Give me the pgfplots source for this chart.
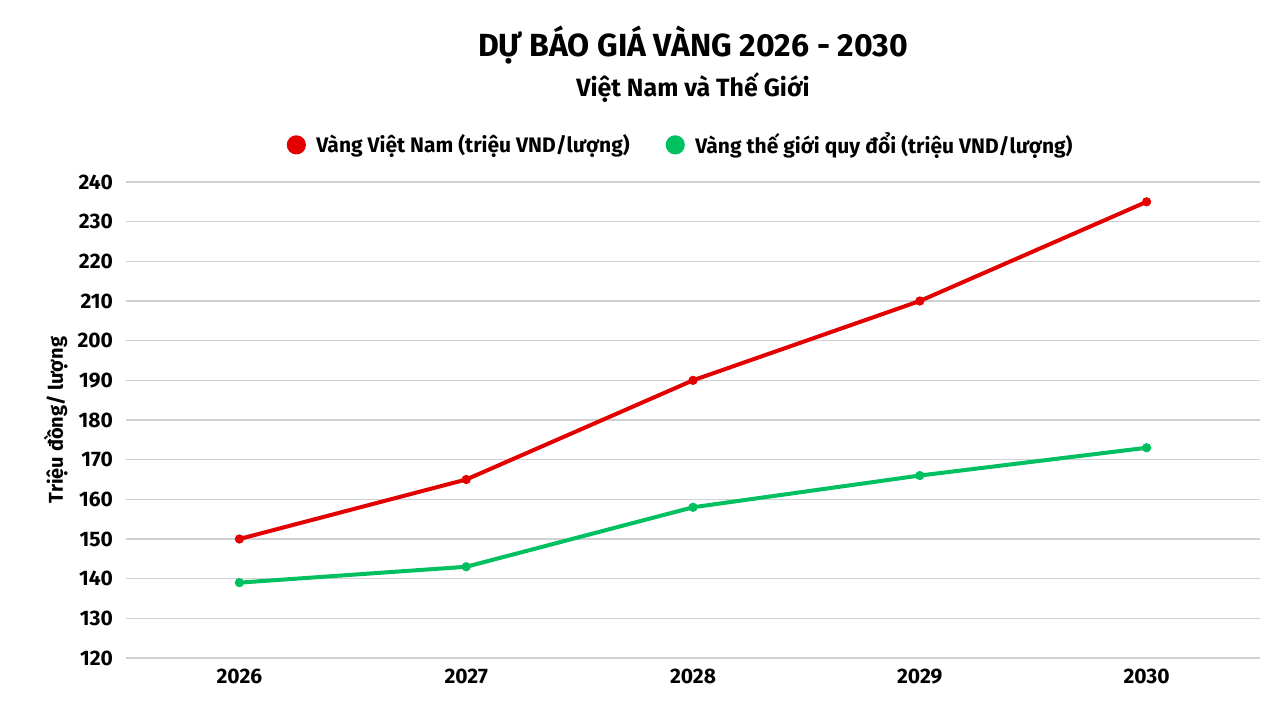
\documentclass[border=0pt]{standalone}
\usepackage{pgfplots}
\pgfplotsset{compat=1.18}
\usepackage{fontspec}
\setmainfont{Fira Sans}
\definecolor{vnred}{HTML}{E30000}
\definecolor{wgreen}{HTML}{00C060}
\definecolor{gridc}{HTML}{D0D0D0}
\begin{document}
\begin{tikzpicture}[x=1pt,y=1pt]
\path[fill=white] (0,0) rectangle (640,360);
\node[font=\fontsize{16}{19}\selectfont\bfseries] at (346.5,337.5) {DỰ BÁO GIÁ VÀNG 2026 - 2030};
\node[font=\fontsize{12.5}{15}\selectfont\bfseries] at (346.5,316) {Việt Nam và Thế Giới};
\begin{axis}[
  at={(63pt,31pt)}, anchor=south west,
  scale only axis, width=567pt, height=238pt,
  xmin=-0.5, xmax=4.5, ymin=120, ymax=240,
  xtick={0,1,2,3,4}, xticklabels={2026,2027,2028,2029,2030},
  ytick={120,130,...,240},
  axis line style={draw=none},
  major tick length=0pt,
  ymajorgrids, grid style={gridc, line width=0.7pt},
  tick label style={font=\fontsize{10.5}{12}\selectfont\bfseries},
  /pgf/number format/assume math mode=true,
  yticklabel style={xshift=-3pt},
  xticklabel style={yshift=-2pt},
  ylabel={Triệu đồng/ lượng},
  ylabel style={font=\fontsize{10}{12}\selectfont\bfseries, yshift=-2pt},
  legend columns=2,
  legend style={draw=none, at={(0.49,1.078)}, anchor=center,
    font=\fontsize{10.5}{12}\selectfont\bfseries,
    /tikz/every even column/.append style={column sep=16pt}},
  legend image code/.code={\fill[draw=none] (0,0) circle (4.8pt); \path[draw=none,fill=none] (-4.8pt,0) -- (8pt,0);},
]
\addplot[vnred, line width=2pt, mark=*, mark size=2.1pt, mark options={line width=0.4pt}] coordinates {(0,150) (1,165) (2,190) (3,210) (4,235)};
\addlegendentry{Vàng Việt Nam (triệu VND/lượng)}
\addplot[wgreen, line width=2pt, mark=*, mark size=2.1pt, mark options={line width=0.4pt}] coordinates {(0,139) (1,143) (2,158) (3,166) (4,173)};
\addlegendentry{Vàng thế giới quy đổi (triệu VND/lượng)}
\end{axis}
\end{tikzpicture}
\end{document}
